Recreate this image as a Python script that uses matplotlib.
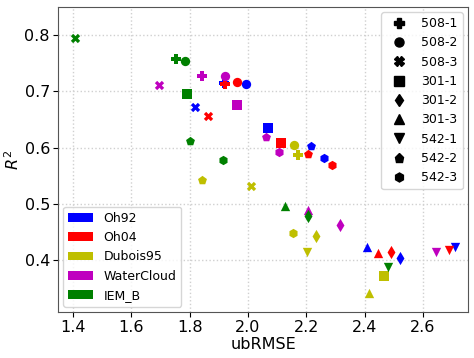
import matplotlib
matplotlib.use("Agg")
import matplotlib.pyplot as plt
from matplotlib.patches import Patch
from matplotlib.lines import Line2D

sites = ["508-1", "508-2", "508-3", "301-1", "301-2", "301-3", "542-1", "542-2", "542-3"]
markers = ["P", "o", "X", "s", "d", "^", "v", "p", "h"]

models = ["Oh92", "Oh04", "Dubois95", "WaterCloud", "IEM_B"]
colors = ["b", "r", "y", "m", "g"]

ubrmse = {
    "Oh92":       [1.917, 1.992, 1.818, 2.069, 2.522, 2.409, 2.711, 2.215, 2.261],
    "Oh04":       [1.921, 1.963, 1.861, 2.112, 2.491, 2.446, 2.689, 2.207, 2.289],
    "Dubois95":   [2.173, 2.157, 2.010, 2.466, 2.234, 2.414, 2.202, 1.841, 2.154],
    "WaterCloud": [1.841, 1.921, 1.696, 1.961, 2.314, 2.204, 2.645, 2.061, 2.107],
    "IEM_B":      [1.753, 1.784, 1.407, 1.790, 2.204, 2.126, 2.479, 1.800, 1.914],
}
r2 = {
    "Oh92":       [0.715, 0.714, 0.672, 0.635, 0.403, 0.424, 0.424, 0.603, 0.582],
    "Oh04":       [0.714, 0.717, 0.656, 0.609, 0.414, 0.412, 0.418, 0.589, 0.569],
    "Dubois95":   [0.587, 0.605, 0.531, 0.371, 0.443, 0.342, 0.415, 0.542, 0.449],
    "WaterCloud": [0.727, 0.727, 0.712, 0.676, 0.463, 0.490, 0.414, 0.619, 0.592],
    "IEM_B":      [0.757, 0.754, 0.795, 0.695, 0.479, 0.496, 0.388, 0.612, 0.578],
}

fig, ax = plt.subplots(figsize=(4.74, 3.58), dpi=100)
fig.subplots_adjust(left=0.123, right=0.987, top=0.98, bottom=0.129)

for model, c in zip(models, colors):
    for i, m in enumerate(markers):
        ax.scatter(ubrmse[model][i], r2[model][i], marker=m, color=c, s=45, zorder=3, linewidths=0)

ax.set_xlim(1.349, 2.754)
ax.set_ylim(0.308, 0.85)
ax.set_xticks([1.4, 1.6, 1.8, 2.0, 2.2, 2.4, 2.6])
ax.set_yticks([0.4, 0.5, 0.6, 0.7, 0.8])
ax.grid(True, linestyle=":", color="#d0d0d0", linewidth=1)
ax.set_axisbelow(True)
ax.tick_params(labelsize=11.5, pad=2.5)
ax.set_xlabel("ubRMSE", fontsize=11.5, labelpad=1)
ax.set_ylabel("$R^2$", fontsize=11.5, labelpad=2)
for s in ax.spines.values():
    s.set_color("#555555")

h1 = [Patch(facecolor=c, label=mdl) for mdl, c in zip(models, colors)]
leg1 = ax.legend(handles=h1, loc="lower left", fontsize=9, handlelength=2.0, borderaxespad=0.4)
ax.add_artist(leg1)
h2 = [Line2D([], [], marker=m, color="k", linestyle="None", markersize=6.5, label=s) for m, s in zip(markers, sites)]
ax.legend(handles=h2, loc="upper right", fontsize=9, borderaxespad=0.4)

fig.savefig("out.png", dpi=100)
